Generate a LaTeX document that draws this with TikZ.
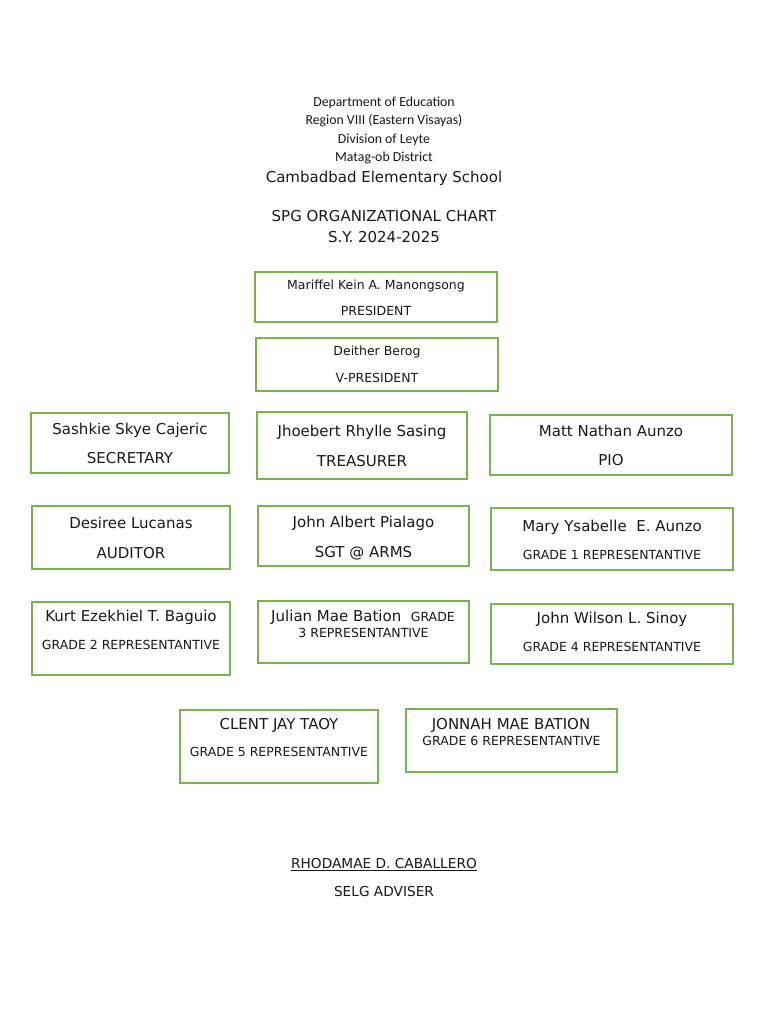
\documentclass[tikz,border=0pt]{standalone}
\usepackage{fontspec}
\setmainfont{DejaVu Sans}
\newfontfamily\carl{Carlito}
\definecolor{gbox}{RGB}{118,180,78}
\definecolor{tx}{RGB}{25,25,25}
\newcommand{\fA}{\fontsize{15}{18}\selectfont}
\newcommand{\fB}{\fontsize{12.5}{15}\selectfont}
\newcommand{\fC}{\carl\fontsize{13.8}{16}\selectfont}
\newcommand{\fD}{\fontsize{13.7}{16}\selectfont}
\begin{document}
\begin{tikzpicture}[x=1pt,y=-1pt,
  box/.style={draw=gbox,line width=1.1pt,inner sep=0},
  lbl/.style={inner sep=0,anchor=base,text=tx}]
\useasboundingbox[fill=white] (0,0) rectangle (768,1024);
% header
\node[lbl,font=\fC] (h1) at (384,106.8) {Department of Education};
\node[lbl,font=\fC] (h2) at (384,124.8) {Region VIII (Eastern Visayas)};
\node[lbl,font=\fC] (h3) at (384,143.8) {Division of Leyte};
\node[lbl,font=\fC] (h4) at (384,161.8) {Matag-ob District};
\node[lbl,font=\fA] (h5) at (384,183) {Cambadbad Elementary School};
\node[lbl,font=\fA] (h6) at (384,222) {SPG ORGANIZATIONAL CHART};
\node[lbl,font=\fA] (h7) at (384,242) {S.Y. 2024-2025};
% boxes
\node[box,minimum width=242pt,minimum height=50pt] (pres) at (376,297) {};
\node[box,minimum width=242pt,minimum height=53pt] (vp) at (377,364.5) {};
\node[box,minimum width=198pt,minimum height=60pt] (sec) at (130,443) {};
\node[box,minimum width=210pt,minimum height=67pt] (tre) at (362,445.5) {};
\node[box,minimum width=242pt,minimum height=60pt] (pio) at (611,445) {};
\node[box,minimum width=198pt,minimum height=63pt] (aud) at (131,537.5) {};
\node[box,minimum width=211pt,minimum height=60pt] (sgt) at (363.5,536) {};
\node[box,minimum width=242pt,minimum height=62pt] (g1) at (612,539) {};
\node[box,minimum width=198pt,minimum height=73pt] (g2) at (131,638.5) {};
\node[box,minimum width=211pt,minimum height=62pt] (g3) at (363.5,632) {};
\node[box,minimum width=242pt,minimum height=60pt] (g4) at (612,634) {};
\node[box,minimum width=198pt,minimum height=73pt] (g5) at (279,746.5) {};
\node[box,minimum width=211pt,minimum height=63pt] (g6) at (511.5,740.5) {};
% texts
\node[lbl,font=\fB] (presn) at (376,289.3) {Mariffel Kein A. Manongsong};
\node[lbl,font=\fB] (presr) at (376,315.3) {PRESIDENT};
\node[lbl,font=\fB] (vpn) at (377,355.3) {Deither Berog};
\node[lbl,font=\fB] (vpr) at (377,382.3) {V-PRESIDENT};
\node[lbl,font=\fA] (secn) at (130,434.2) {Sashkie Skye Cajeric};
\node[lbl,font=\fA] (secr) at (130,463.2) {SECRETARY};
\node[lbl,font=\fA] (tren) at (362,436.2) {Jhoebert Rhylle Sasing};
\node[lbl,font=\fA] (trer) at (362,466.2) {TREASURER};
\node[lbl,font=\fA] (pion) at (611,436.2) {Matt Nathan Aunzo};
\node[lbl,font=\fA] (pior) at (611,465.2) {PIO};
\node[lbl,font=\fA] (audn) at (131,528.2) {Desiree Lucanas};
\node[lbl,font=\fA] (audr) at (131,558.2) {AUDITOR};
\node[lbl,font=\fA] (sgtn) at (363.5,527.2) {John Albert Pialago};
\node[lbl,font=\fA] (sgtr) at (363.5,557.2) {SGT @ ARMS};
\node[lbl,font=\fA] (g1n) at (612,531.2) {Mary Ysabelle\ \ E. Aunzo};
\node[lbl,font=\fB] (g1r) at (612,559.3) {GRADE 1 REPRESENTANTIVE};
\node[lbl,font=\fA] (g2n) at (131,621.2) {Kurt Ezekhiel T. Baguio};
\node[lbl,font=\fB] (g2r) at (131,649.3) {GRADE 2 REPRESENTANTIVE};
\node[lbl,font=\fA] (g3n) at (363,621.2) {Julian Mae Bation\ \ {\fB GRADE}};
\node[lbl,font=\fB] (g3r) at (363.5,637.3) {3 REPRESENTANTIVE};
\node[lbl,font=\fA] (g4n) at (612,623.2) {John Wilson L. Sinoy};
\node[lbl,font=\fB] (g4r) at (612,651.3) {GRADE 4 REPRESENTANTIVE};
\node[lbl,font=\fA] (g5n) at (279,729.2) {CLENT JAY TAOY};
\node[lbl,font=\fB] (g5r) at (279,756.3) {GRADE 5 REPRESENTANTIVE};
\node[lbl,font=\fA] (g6n) at (511,729.2) {JONNAH MAE BATION};
\node[lbl,font=\fB] (g6r) at (511.5,745.3) {GRADE 6 REPRESENTANTIVE};
% footer
\node[lbl,font=\fD] (adv) at (384,868.7) {\underline{RHODAMAE D. CABALLERO}};
\node[lbl,font=\fD] (advr) at (384,896.7) {SELG ADVISER};
\end{tikzpicture}
\end{document}
